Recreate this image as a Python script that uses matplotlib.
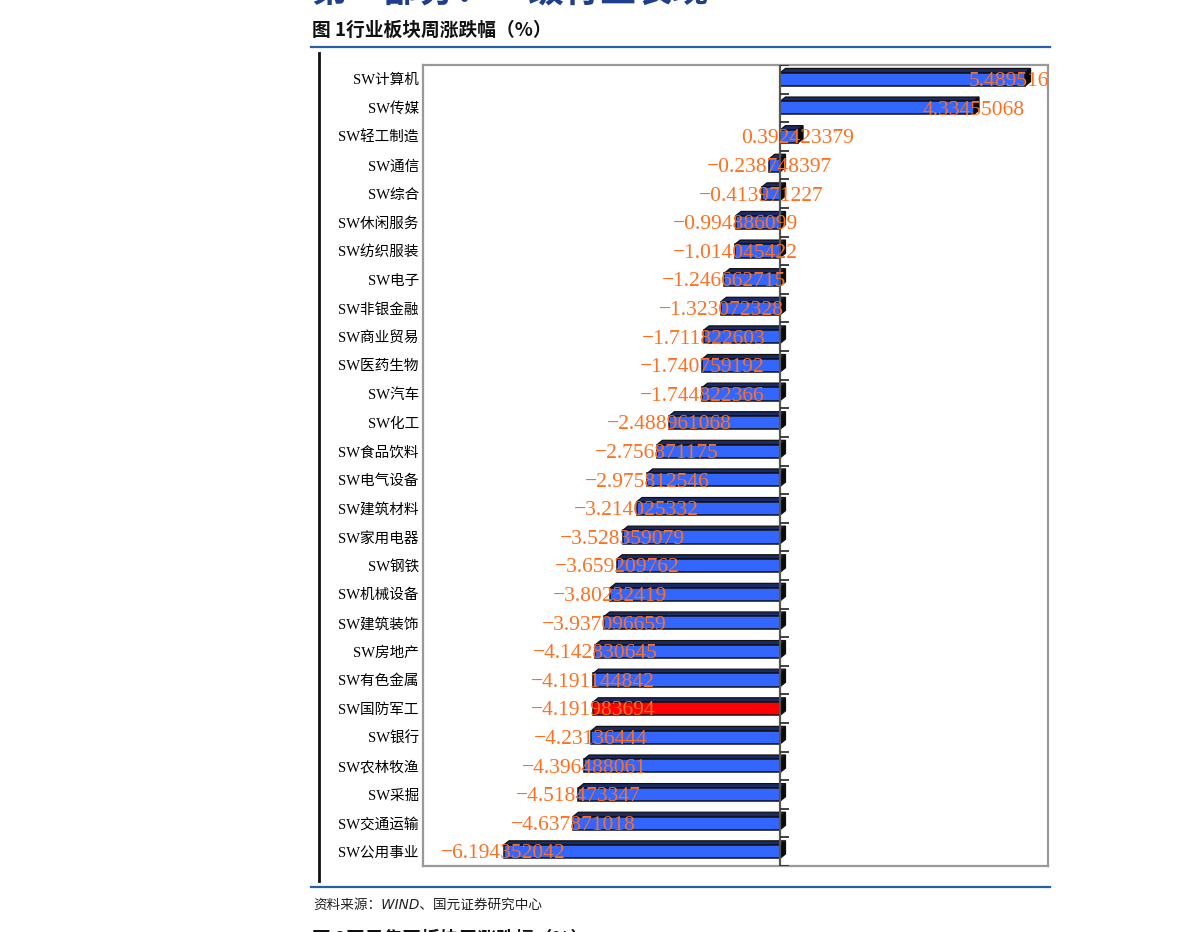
#!/usr/bin/python
# -*- coding: utf-8 -*-

# Imports
import matplotlib
matplotlib.use('Agg')
from matplotlib import pyplot as plt
from matplotlib.patches import Polygon
from matplotlib.lines import Line2D


# Data: weekly change of SW industries (%)
industries = ['SW计算机', 'SW传媒', 'SW轻工制造', 'SW通信', 'SW综合', 'SW休闲服务',
              'SW纺织服装', 'SW电子', 'SW非银金融', 'SW商业贸易', 'SW医药生物', 'SW汽车',
              'SW化工', 'SW食品饮料', 'SW电气设备', 'SW建筑材料', 'SW家用电器', 'SW钢铁',
              'SW机械设备', 'SW建筑装饰', 'SW房地产', 'SW有色金属', 'SW国防军工', 'SW银行',
              'SW农林牧渔', 'SW采掘', 'SW交通运输', 'SW公用事业']
changes = [5.489516363, 4.33455068, 0.392423379, -0.238748397, -0.413971227, -0.994886099,
           -1.014045422, -1.246662715, -1.323072328, -1.711822603, -1.740759192, -1.744822366,
           -2.488961068, -2.756871175, -2.975812546, -3.214025332, -3.528359079, -3.659209762,
           -3.80232419, -3.937096659, -4.142830645, -4.191144842, -4.191983694, -4.23136444,
           -4.396488061, -4.518473347, -4.637871018, -6.194352042]
highlight = 'SW国防军工'

W, H = 1191, 932
fig = plt.figure(figsize=(W / 100, H / 100), dpi=100)

# Page decorations (report layout)
def fx(px):
    return px / W

def fy(py):
    return 1 - py / H

cjk = ['Noto Sans CJK SC', 'DejaVu Sans']
fig.text(fx(312), fy(-9), '第一部分：一级行业表现', fontsize=26, fontweight='bold',
         color='#1F3F8C', family=cjk, va='center', ha='left')
fig.text(fx(312), fy(30), '图 1行业板块周涨跌幅（%）', fontsize=13.5, fontweight='bold',
         color='#111111', family=cjk, va='center', ha='left')
fig.add_artist(Line2D([fx(311), fx(1050)], [fy(47), fy(47)], color='#2860A8', lw=1.6))
fig.add_artist(Line2D([fx(319), fx(319)], [fy(53), fy(881)], color='#111111', lw=2))
fig.add_artist(Line2D([fx(311), fx(1050)], [fy(887), fy(887)], color='#2860A8', lw=1.6))
fig.text(fx(313), fy(905), '资料来源：WIND、国元证券研究中心', fontsize=9.8, style='italic',
         color='#222222', family=['DejaVu Sans', 'Noto Sans CJK SC'], va='center', ha='left')
fig.text(fx(312), fy(939), '图 2国元集团板块周涨跌幅（%）', fontsize=13.5, fontweight='bold',
         color='#111111', family=cjk, va='center', ha='left')

# Chart
ax = fig.add_axes([fx(423), fy(866), fx(1048) - fx(423), fy(65) - fy(866)])
n = len(industries)
ypos = list(range(n))
bh = 0.46
dx, dy = 0.12, 0.15  # 3d depth in data units

colors = ['#FF0000' if c == highlight else '#3366FF' for c in industries]
bars = ax.barh(ypos, changes, height=bh, color=colors, edgecolor='#111111', lw=1.1, zorder=3)

# fake 3d: top face and right side face
for b in bars:
    x0 = b.get_x()
    x1 = x0 + b.get_width()
    left, right = min(x0, x1), max(x0, x1)
    yt = b.get_y()          # top edge (y axis inverted)
    yb = yt + b.get_height()
    top = Polygon([(left, yt), (left + dx, yt - dy), (right + dx, yt - dy), (right, yt)],
                  closed=True, facecolor='#1A2A66', edgecolor='#111111', lw=0.9, zorder=2)
    side = Polygon([(right, yt), (right + dx, yt - dy), (right + dx, yb - dy), (right, yb)],
                   closed=True, facecolor='#0A0A0A', edgecolor='#111111', lw=0.9, zorder=2)
    ax.add_patch(top)
    ax.add_patch(side)

# value labels
for y, v in zip(ypos, changes):
    ax.text(v, y + 0.08, str(v).replace('-', '\u2212'), color='#FF6F1F', fontsize=15.5,
            family='Liberation Serif', ha='center', va='center', zorder=5, clip_on=True)

ax.set_xlim(-8, 6)
ax.set_ylim(n - 0.5, -0.5)
ax.set_xticks([])
ax.set_yticks(ypos)
ax.set_yticklabels(industries, family=['Liberation Serif', 'Noto Sans CJK SC'], fontsize=10.5)
ax.tick_params(axis='y', length=0, pad=3)

# category axis at zero with boundary ticks
ax.axvline(0, color='#555555', lw=1.6, zorder=4)
bounds = [k - 0.5 for k in range(n + 1)]
ax.hlines(bounds, 0, 0.2, color='#333333', lw=1.3, zorder=4)

for s in ax.spines.values():
    s.set_color('#999999')
    s.set_linewidth(1.6)

fig.savefig('out.png', dpi=100)
